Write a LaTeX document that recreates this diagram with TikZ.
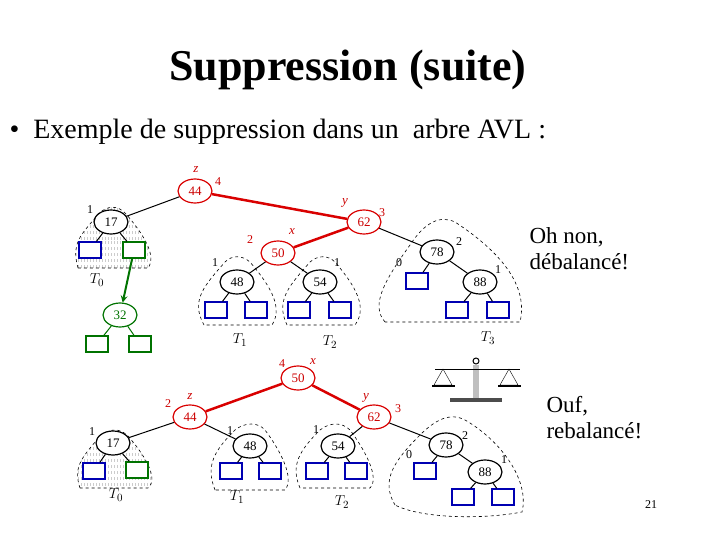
\documentclass[tikz,border=0pt]{standalone}
\usepackage{fontspec}
\setmainfont{Liberation Serif}
\usetikzlibrary{patterns,shapes.geometric}
\begin{document}
\begin{tikzpicture}[x=1pt,y=-1pt,
 nd/.style={ellipse,draw,line width=1.2pt,minimum width=34pt,minimum height=24pt,inner sep=0pt,font=\fontsize{13}{13}\selectfont},
 rd/.style={nd,draw=red!85!black,text=red!80!black},
 gd/.style={nd,draw=green!45!black,text=green!45!black},
 lf/.style={draw=blue!70!black,line width=1.2pt,minimum width=22pt,minimum height=16pt,inner sep=0pt},
 gl/.style={lf,draw=green!45!black},
 e/.style={line width=1pt},
 re/.style={line width=2.5pt,red!85!black},
 blob/.style={dashed,line width=0.6pt},
 hatch/.style={blob,draw,pattern=vertical lines,pattern color=gray!40},
 lb/.style={font=\fontsize{12}{12}\selectfont},
 rl/.style={font=\fontsize{12}{12}\selectfont,text=red!80!black},
 rit/.style={font=\itshape\fontsize{13}{13}\selectfont,text=red!80!black},
 tl/.style={font=\itshape\fontsize{15}{15}\selectfont},
 big/.style={anchor=west,align=left,font=\fontsize{23}{26}\selectfont}]
\useasboundingbox (0,0) rectangle (720,540);
\node[font=\bfseries\fontsize{44}{44}\selectfont] (title) at (348,70) {Suppression (suite)};
\node[anchor=west,font=\fontsize{28}{28}\selectfont] (bul) at (6,132) {•\ \ Exemple de suppression dans un\ \ arbre AVL :};
\node[big] (oh) at (526,249) {Oh non,\\débalancé!};
\node[big] (ouf) at (543,418) {Ouf,\\rebalancé!};
\node[font=\fontsize{12}{12}\selectfont] (pg) at (651,505) {21};
% ---------- top tree blobs
\path[hatch] (78,268) .. controls (70,240) and (85,232) .. (98,214) .. controls (108,205) and (118,205) .. (126,214) .. controls (140,230) and (158,255) .. (148,268) -- cycle;
\draw[blob] (204,325) .. controls (190,300) and (205,285) .. (225,262) .. controls (232,255) and (242,255) .. (250,262) .. controls (265,280) and (285,305) .. (272,325) -- cycle;
\draw[blob] (287,325) .. controls (275,300) and (290,285) .. (310,262) .. controls (318,255) and (328,255) .. (335,262) .. controls (350,280) and (370,305) .. (355,325) -- cycle;
\draw[blob] (385,322) .. controls (370,305) and (385,280) .. (410,245) .. controls (425,222) and (440,215) .. (455,222) .. controls (490,245) and (530,280) .. (520,322) -- cycle;
% ---------- top tree nodes
\node[rd] (a44) at (195,191) {44};
\node[nd,fill=white] (a17) at (111,222) {17};
\node[rd] (a62) at (364,222) {62};
\node[rd] (a50) at (278,253) {50};
\node[nd] (a48) at (237,282) {48};
\node[nd] (a54) at (320,282) {54};
\node[nd] (a78) at (437,252) {78};
\node[nd] (a88) at (480,282) {88};
\node[gd] (a32) at (120,315) {32};
\node[lf,fill=white] (l1) at (90,250) {};
\node[gl,fill=white] (l2) at (134,250) {};
\node[gl] (l3) at (97,344) {};
\node[gl] (l4) at (140,344) {};
\node[lf] (l5) at (216,310) {};
\node[lf] (l6) at (256,310) {};
\node[lf] (l7) at (299,310) {};
\node[lf] (l8) at (340,310) {};
\node[lf] (l9) at (417,281) {};
\node[lf] (l10) at (457,310) {};
\node[lf] (l11) at (498,310) {};
\draw[e] (a44)--(a17); \draw[re] (a44)--(a62); \draw[re] (a62)--(a50); \draw[e] (a62)--(a78);
\draw[e] (a50)--(a48); \draw[e] (a50)--(a54); \draw[e] (a78)--(l9); \draw[e] (a78)--(a88);
\draw[e] (a17)--(l1); \draw[e] (a17)--(l2);
\draw[e] (a48)--(l5); \draw[e] (a48)--(l6); \draw[e] (a54)--(l7); \draw[e] (a54)--(l8);
\draw[e] (a88)--(l10); \draw[e] (a88)--(l11);
\draw[e,green!45!black] (a32)--(l3); \draw[e,green!45!black] (a32)--(l4);
\draw[-stealth,line width=2pt,green!45!black] (l2)--(a32);
% labels top
\node[rit] (tz) at (196,170) {z}; \node[rl] (t4) at (218,182) {4};
\node[rit] (ty) at (345,203) {y}; \node[rl] (t3) at (382,213) {3};
\node[rit] (tx) at (292,232) {x}; \node[rl] (t2) at (250,240) {2};
\node[lb] (n1) at (90,210) {1}; \node[lb] (n2) at (215,263) {1};
\node[lb] (n3) at (337,263) {1}; \node[lb] (n4) at (459,242) {2};
\node[lb] (n5) at (399,263) {0}; \node[lb] (n6) at (498,270) {1};
\node[tl] (T0a) at (97,280) {$T_0$}; \node[tl] (T1a) at (240,340) {$T_1$};
\node[tl] (T2a) at (330,342) {$T_2$}; \node[tl] (T3a) at (488,338) {$T_3$};
% ---------- bottom tree blobs
\path[hatch] (80,488) .. controls (72,465) and (85,455) .. (100,436) .. controls (110,428) and (120,428) .. (128,436) .. controls (142,452) and (160,478) .. (148,488) -- cycle;
\draw[blob] (215,490) .. controls (205,465) and (215,450) .. (235,430) .. controls (245,422) and (258,422) .. (265,430) .. controls (280,450) and (295,478) .. (285,490) -- cycle;
\draw[blob] (300,488) .. controls (290,465) and (300,450) .. (320,430) .. controls (330,422) and (342,422) .. (350,430) .. controls (365,450) and (380,478) .. (370,488) -- cycle;
\draw[blob] (395,505) .. controls (380,480) and (395,460) .. (420,435) .. controls (435,420) and (450,412) .. (465,420) .. controls (500,440) and (530,480) .. (522,512) .. controls (480,520) and (420,518) .. (395,505) -- cycle;
% ---------- bottom tree nodes
\node[rd] (b50) at (298,378) {50};
\node[rd] (b44) at (190,417) {44};
\node[rd] (b62) at (374,417) {62};
\node[nd,fill=white] (b17) at (113,443) {17};
\node[nd] (b48) at (250,446) {48};
\node[nd] (b54) at (338,446) {54};
\node[nd] (b78) at (446,445) {78};
\node[nd] (b88) at (485,472) {88};
\node[lf,fill=white] (m1) at (94,471) {};
\node[gl,fill=white] (m2) at (137,470) {};
\node[lf] (m3) at (231,471) {};
\node[lf] (m4) at (270,471) {};
\node[lf] (m5) at (317,471) {};
\node[lf] (m6) at (356,471) {};
\node[lf] (m7) at (425,471) {};
\node[lf] (m8) at (463,497) {};
\node[lf] (m9) at (503,497) {};
\draw[re] (b50)--(b44); \draw[re] (b50)--(b62);
\draw[e] (b44)--(b17); \draw[e] (b44)--(b48); \draw[e] (b62)--(b54); \draw[e] (b62)--(b78);
\draw[e] (b17)--(m1); \draw[e] (b17)--(m2); \draw[e] (b48)--(m3); \draw[e] (b48)--(m4);
\draw[e] (b54)--(m5); \draw[e] (b54)--(m6); \draw[e] (b78)--(m7); \draw[e] (b78)--(b88);
\draw[e] (b88)--(m8); \draw[e] (b88)--(m9);
\node[rl] (u4) at (282,364) {4}; \node[rit] (ux) at (313,362) {x};
\node[rl] (u2) at (168,404) {2}; \node[rit] (uz) at (190,397) {z};
\node[rit] (uy) at (366,398) {y}; \node[rl] (u3) at (398,409) {3};
\node[lb] (k1) at (92,432) {1}; \node[lb] (k2) at (230,431) {1};
\node[lb] (k3) at (316,430) {1}; \node[lb] (k4) at (465,436) {2};
\node[lb] (k5) at (409,455) {0}; \node[lb] (k6) at (504,460) {1};
\node[tl] (T0b) at (116,495) {$T_0$}; \node[tl] (T1b) at (237,497) {$T_1$};
\node[tl] (T2b) at (342,502) {$T_2$};
% ---------- scale
\fill[gray!60!black] (450,398) rectangle (502,402);
\fill[gray!50] (473,365) rectangle (479,398);
\draw[line width=1pt] (476,361) circle (3);
\draw[line width=1pt] (435,369) -- (520,369);
\draw (443,369) -- (434,385) -- (452,385) -- cycle;
\draw (509,369) -- (500,385) -- (518,385) -- cycle;
\draw[line width=1.5pt] (432,386) -- (455,386);
\draw[line width=1.5pt] (498,386) -- (521,386);
\end{tikzpicture}
\end{document}
